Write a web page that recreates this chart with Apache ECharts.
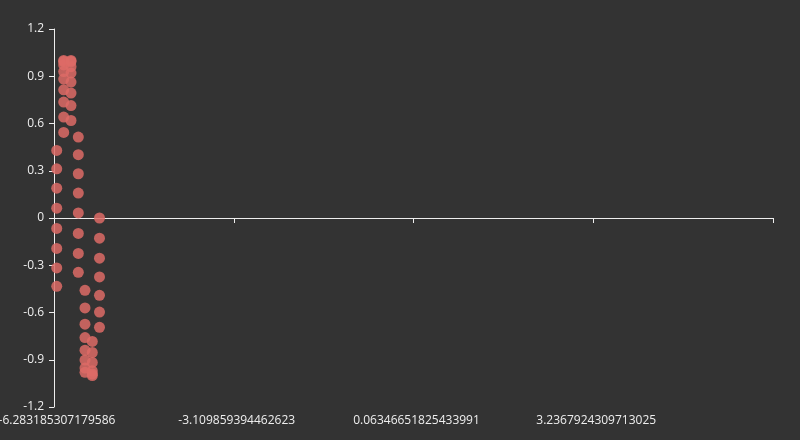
<!DOCTYPE html>
<html>
<head>
<meta charset="utf-8">
<script src="https://cdn.jsdelivr.net/npm/echarts@6/dist/echarts.min.js"></script>
<style>
  html, body { margin: 0; padding: 0; background: #333; }
  #main { width: 800px; height: 440px; }
</style>
</head>
<body>
<div id="main"></div>
<script>
// x axis settings
const xMin = -6.283185307179586;
const xStep = 3.173325912716963;
const xTickLabels = ['-6.283185307179586', '-3.109859394462623', '0.06346651825433991', '3.2367924309713025', ''];

// one x value per column of points
const colX = [-6.235, -6.112, -5.983, -5.854, -5.736, -5.607, -5.48];

// y values of the points in each column
const colA = [0.429, 0.312, 0.189, 0.062, -0.066, -0.193, -0.317, -0.434];
const colB = [0.543, 0.641, 0.736, 0.814, 0.882, 0.930, 0.972, 0.993, 1.0];
const colC = [0.619, 0.714, 0.793, 0.863, 0.920, 0.961, 0.993, 1.0];
const colD = [0.514, 0.402, 0.281, 0.158, 0.032, -0.098, -0.225, -0.345];
const colE = [-0.459, -0.571, -0.674, -0.759, -0.839, -0.902, -0.953, -0.98];
const colF = [-0.784, -0.854, -0.917, -0.970, -0.99, -1.0];
const colG = [0.0, -0.128, -0.255, -0.374, -0.491, -0.597, -0.694];

const columns = [colA, colB, colC, colD, colE, colF, colG];
const points = [];
columns.forEach(function (col, i) {
    col.forEach(function (y) {
        points.push([colX[i], y]);
    });
});

const chart = echarts.init(document.getElementById('main'));
const axisColor = '#eee';
const option = {
    backgroundColor: '#333',
    color: ['#dd6b66'],
    textStyle: { fontFamily: 'Open Sans' },
    grid: { left: 54, right: 27, top: 29, bottom: 33, containLabel: false, outerBoundsMode: 'none' },
    xAxis: [
        {
            type: 'value',
            min: xMin,
            max: xMin + xStep * 4,
            interval: xStep,
            axisLine: { onZero: true, lineStyle: { color: axisColor } },
            axisTick: { lineStyle: { color: axisColor } },
            axisLabel: { show: false },
            splitLine: { show: false }
        },
        {
            type: 'value',
            position: 'bottom',
            min: xMin,
            max: xMin + xStep * 4,
            interval: xStep,
            axisLine: { show: false, onZero: false },
            axisTick: { show: false },
            axisLabel: {
                color: axisColor,
                fontSize: 12,
                padding: [0, 0, 0, 6],
                showMaxLabel: false,
                formatter: function (value, index) {
                    return xTickLabels[index] || '';
                }
            },
            splitLine: { show: false }
        }
    ],
    yAxis: {
        type: 'value',
        min: -1.2,
        max: 1.2,
        interval: 0.3,
        axisLine: { show: true, onZero: false, lineStyle: { color: axisColor } },
        axisTick: { show: true, lineStyle: { color: axisColor } },
        axisLabel: { color: axisColor, fontSize: 12, margin: 10 },
        splitLine: { show: false }
    },
    series: [{
        type: 'scatter',
        xAxisIndex: 0,
        symbolSize: 11,
        itemStyle: { opacity: 0.85 },
        data: points
    }]
};
chart.setOption(option);
</script>
</body>
</html>
